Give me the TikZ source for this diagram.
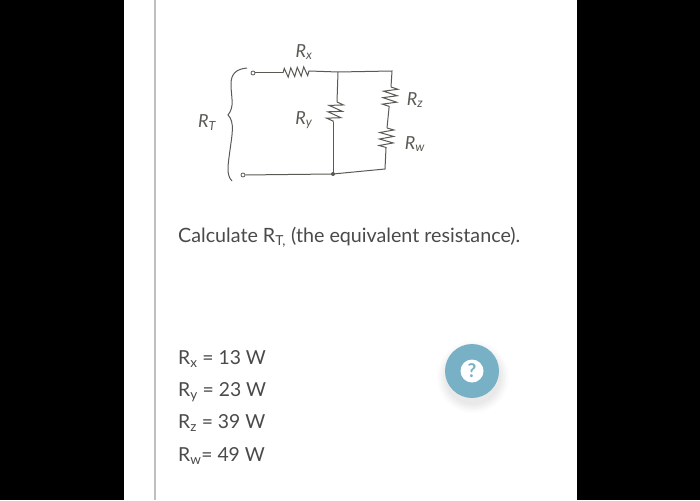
\documentclass[tikz,border=0pt]{standalone}
\usepackage{fontspec}
\setmainfont{Lato}
\usetikzlibrary{decorations.pathmorphing}
\definecolor{helpblue}{HTML}{78B0C6}
\definecolor{ink}{HTML}{4A4A4A}
\definecolor{pen}{HTML}{5A5A55}
\tikzset{
	wire/.style={draw=pen, line width=1pt},
	res/.style={wire, decorate, decoration={zigzag, segment length=6.5pt, amplitude=4.5pt}},
	resv/.style={wire, decorate, decoration={zigzag, segment length=6.5pt, amplitude=7pt}},
	pin/.style={circle, draw=pen, line width=0.8pt, fill=white, inner sep=0pt, minimum size=4pt},
	hand/.style={text=pen, font=\fontsize{18}{18}\itshape\selectfont, inner sep=0pt},
	txt/.style={text=ink, inner sep=0pt, anchor=base west},
	calctxt/.style={txt, font=\fontsize{19.7}{20}\selectfont},
	valtxt/.style={txt, font=\fontsize{19.3}{20}\selectfont}
}
\newcommand{\sub}[1]{\textsubscript{#1}}
\begin{document}
\begin{tikzpicture}[x=1pt, y=-1pt]

	\useasboundingbox (0,0) rectangle (700,500);
	\fill[white] (0,0) rectangle (700,500);
	\fill[black] (0,0) rectangle (124,500);
	\fill[black] (577,0) rectangle (700,500);
	\draw[black!25, line width=1.5pt] (155,0) -- (155,500);

	% circuit
	\node[pin] (inA) at (253,73) {};
	\node[pin] (inB) at (243,175) {};
	\coordinate (rxL) at (283,73);
	\coordinate (rxR) at (309,71);
	\coordinate (top) at (338,72);
	\coordinate (corner) at (392,71);
	\coordinate (rzT) at (391,87);
	\coordinate (rzB) at (389,108);
	\coordinate (rwT) at (387,128);
	\coordinate (rwB) at (386,148);
	\coordinate (bcorner) at (385,169);
	\coordinate (ryT) at (337,102);
	\coordinate (ryB) at (333,122);
	\coordinate (bot) at (333,174);

	\draw[wire] (inA) -- (rxL);
	\draw[res] (rxL) -- (rxR);
	\draw[wire] (rxR) -- (top) -- (corner) -- (rzT);
	\draw[resv] (rzT) -- (rzB);
	\draw[wire] (rzB) -- (rwT);
	\draw[resv] (rwT) -- (rwB);
	\draw[wire] (rwB) -- (bcorner) -- (bot) -- (inB);
	\draw[wire] (top) -- (ryT);
	\draw[resv] (ryT) -- (ryB);
	\draw[wire] (ryB) -- (bot);
	\fill[pen] (bot) circle (2pt);

	% brace
	\draw[wire] (247,68) .. controls (236,69) and (231,74) .. (231,84)
		.. controls (231,98) and (235,106) .. (228,115)
		.. controls (235,122) and (232,135) .. (230,150)
		.. controls (228,165) and (226,175) .. (232,181);

	\node[hand] (lblX) at (304,52) {R\sub{x}};
	\node[hand] (lblY) at (304,120) {R\sub{y}};
	\node[hand] (lblZ) at (415,100) {R\sub{z}};
	\node[hand] (lblW) at (415,144) {R\sub{w}};
	\node[hand] (lblT) at (207,123) {R\sub{T}};

	% question and values
	\node[calctxt] (calc) at (178,242) {Calculate R\sub{T,} (the equivalent resistance).};
	\node[valtxt] (valX) at (178,364) {R\sub{x} = 13 W};
	\node[valtxt] (valY) at (178,396) {R\sub{y} = 23 W};
	\node[valtxt] (valZ) at (178,428) {R\sub{z} = 39 W};
	\node[valtxt] (valW) at (178,461) {R\sub{w}= 49 W};

	% help button
	\foreach \r/\o in {36/0.012, 34/0.015, 32/0.018, 30/0.02, 28/0.02}
		\fill[black, opacity=\o] (473,377) circle (\r pt);
	\node[circle, fill=helpblue, minimum size=54pt, inner sep=0pt] (help) at (472,371) {};
	\node[circle, fill=white, minimum size=23pt, inner sep=0pt, text=helpblue,
		font=\fontsize{19}{19}\bfseries\selectfont] (mark) at (help) {?};

\end{tikzpicture}
\end{document}
